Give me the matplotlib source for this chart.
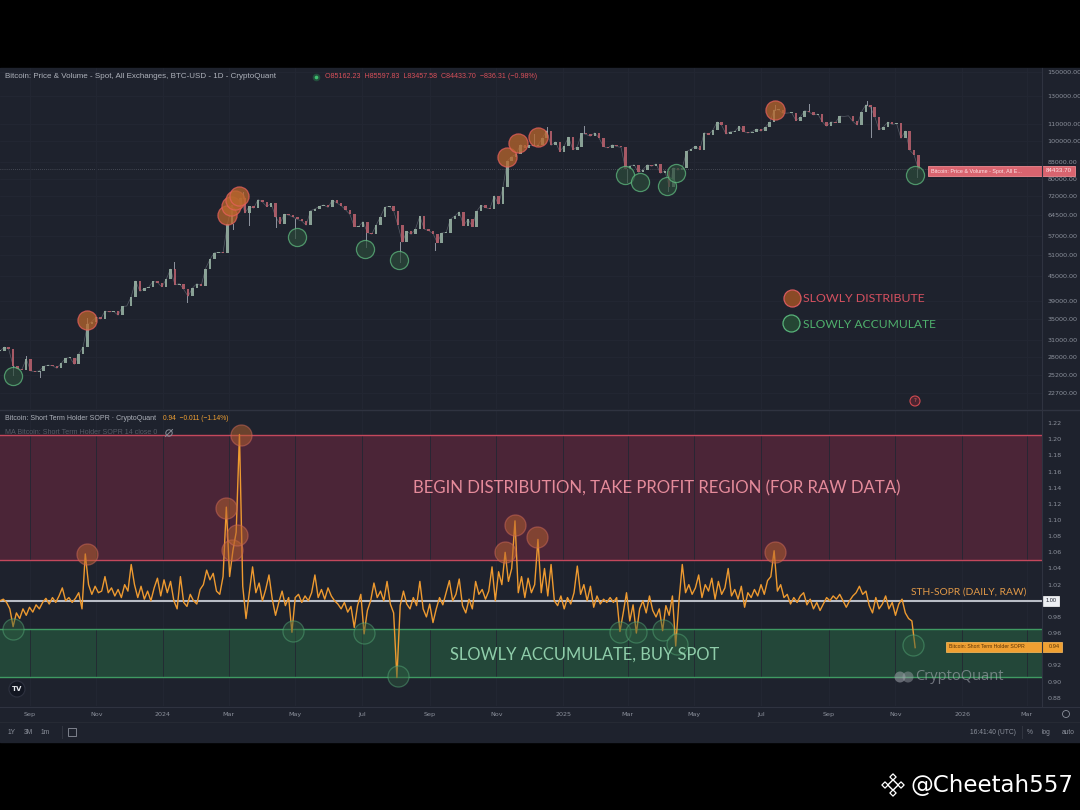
import matplotlib
matplotlib.use("Agg")
import matplotlib.pyplot as plt
import matplotlib.dates as mdates
import pandas as pd
from matplotlib.patches import Rectangle, Circle

# ---------------- data ----------------
price_start = "2023-08-05"
price_step = "4D"
price_close = [
    29000, 29700, 29300, 26600, 26100, 26000, 27700, 25800, 25700, 25800,
    26500, 26700, 26600, 26200, 27000, 27800, 27900, 26800, 28500, 29700,
    33900, 34500, 35400, 35000, 36700, 36500, 36600, 35800, 37700, 37800,
    39900, 43800, 41200, 41900, 42200, 43700, 43400, 42300, 44200, 47000,
    42800, 43100, 41700, 40000, 42000, 43100, 42600, 47100, 49700, 51700,
    51800, 51700, 61200, 68300, 68300, 71500, 65300, 67900, 67200, 70700,
    69700, 67800, 69100, 63900, 61300, 64900, 64500, 63800, 62900, 62300,
    60800, 66200, 66900, 67900, 68500, 67500, 70500, 69300, 68200, 66600,
    64800, 60300, 60300, 62100, 58200, 57700, 60800, 63900, 67600, 67900,
    66200, 60700, 55000, 58700, 57600, 59500, 64100, 59400, 58900, 57900,
    54800, 58100, 58200, 63000, 64200, 65800, 60600, 63000, 60300, 66000,
    68400, 67400, 67000, 72300, 68700, 75900, 88700, 91000, 92300, 97700,
    95900, 97300, 96900, 97400, 101400, 106100, 97200, 99300, 93700, 96900,
    102100, 94700, 96500, 104400, 103700, 102600, 104700, 101400, 96500, 95800,
    97600, 96600, 96100, 84700, 86200, 86700, 82900, 84300, 86800, 86000,
    87200, 82500, 83800, 76300, 85300, 84000, 85100, 93900, 95000, 96900,
    94700, 104800, 103500, 106500, 111700, 109400, 103900, 105400, 105600, 108700,
    105500, 104600, 105500, 107100, 105700, 108200, 111300, 119800, 119800, 117400,
    117600, 117900, 112500, 114900, 119300, 118300, 116300, 116900, 111800, 108800,
    111700, 111100, 115500, 115300, 115700, 112000, 109600, 118600, 123500, 121700,
    115200, 106500, 108400, 111600, 110000, 110600, 101300, 105900, 94500, 92000,
    84400,
]
wick_dates = [
    "2023-08-17", "2023-08-29", "2023-09-11", "2023-10-24", "2024-01-11",
    "2024-01-23", "2024-03-05", "2024-03-14", "2024-03-20", "2024-04-13",
    "2024-05-01", "2024-07-05", "2024-08-05", "2024-09-06", "2024-12-05",
    "2024-12-17", "2025-01-20", "2025-02-28", "2025-04-07", "2025-05-22",
    "2025-07-14", "2025-08-14", "2025-10-06", "2025-10-10", "2025-11-21",
]
wick_values = [
    25200, 28100, 24900, 35200, 48900,
    38600, 59300, 73700, 60800, 60000,
    56500, 53500, 49100, 52600, 103900,
    108300, 109300, 78300, 74500, 111900,
    123200, 124100, 126200, 102000, 80600,
]

sopr_start = "2023-08-05"
sopr_step = "3D"
sopr_values = [
    1.000, 1.002, 0.998, 0.990, 0.968, 0.985, 0.978, 0.990, 0.982, 0.992,
    0.986, 0.995, 0.990, 0.998, 1.003, 0.996, 1.004, 0.998, 1.006, 1.016,
    1.000, 1.004, 0.998, 1.003, 1.010, 0.990, 1.058, 1.020, 1.008, 1.018,
    1.010, 1.012, 1.030, 1.010, 1.016, 1.006, 1.014, 1.004, 1.020, 1.012,
    1.045, 1.020, 1.004, 1.018, 1.002, 1.012, 1.000, 1.016, 1.028, 1.006,
    1.026, 1.010, 1.024, 1.000, 0.990, 1.030, 0.998, 0.993, 1.008, 1.000,
    0.996, 1.014, 1.020, 1.038, 1.026, 1.034, 1.012, 1.008, 1.030, 1.116,
    1.030, 1.062, 1.085, 1.206, 1.018, 0.978, 1.010, 1.042, 1.010, 1.022,
    1.000, 1.014, 1.032, 1.002, 0.982, 0.998, 1.012, 0.994, 1.004, 0.961,
    1.004, 1.008, 0.998, 1.006, 1.000, 1.010, 1.032, 1.004, 1.014, 1.002,
    1.016, 1.006, 1.000, 0.996, 0.990, 0.998, 0.986, 0.993, 0.967, 0.994,
    1.008, 0.959, 0.988, 1.000, 1.022, 1.004, 1.012, 1.000, 1.024, 0.996,
    0.985, 0.905, 0.994, 1.012, 0.996, 0.990, 1.004, 0.994, 1.024, 0.990,
    0.980, 0.996, 0.973, 0.990, 1.004, 0.995, 1.010, 1.025, 1.000, 1.008,
    1.027, 0.994, 0.985, 1.002, 0.990, 1.024, 1.008, 1.014, 1.002, 1.012,
    1.042, 1.000, 1.036, 1.020, 1.060, 1.024, 1.040, 1.099, 1.010, 1.030,
    1.004, 1.028, 1.010, 1.020, 1.076, 1.010, 1.040, 1.006, 1.045, 1.000,
    0.994, 1.006, 0.990, 1.004, 0.996, 1.010, 1.043, 1.008, 1.020, 1.000,
    1.018, 0.992, 1.006, 0.996, 1.002, 0.998, 1.004, 0.998, 1.004, 0.962,
    0.985, 1.010, 0.975, 0.995, 0.960, 0.990, 1.000, 0.985, 1.006, 0.988,
    0.980, 0.990, 0.963, 0.994, 0.982, 1.006, 0.944, 1.000, 1.045, 1.010,
    1.020, 1.008, 1.016, 1.032, 1.004, 1.020, 1.012, 1.028, 1.002, 1.024,
    1.008, 1.016, 1.040, 1.006, 1.014, 1.002, 1.018, 0.992, 1.010, 1.004,
    1.014, 1.006, 1.020, 1.008, 1.025, 1.030, 1.062, 1.012, 1.020, 1.004,
    1.008, 0.996, 1.004, 0.998, 1.006, 1.010, 0.995, 1.002, 0.990, 0.998,
    0.988, 0.996, 1.004, 1.000, 1.006, 1.002, 1.008, 1.000, 0.992, 1.000,
    1.006, 1.010, 1.018, 1.008, 1.012, 0.994, 0.985, 1.004, 0.990, 0.996,
    1.006, 0.990, 0.998, 0.982, 0.996, 1.002, 0.985, 0.978, 0.975, 0.942,
]

dist_price_dates = ["2023-10-24", "2024-02-29", "2024-03-03", "2024-03-07", "2024-03-11",
                    "2024-11-11", "2024-11-21", "2024-12-09", "2025-07-14"]
dist_price_values = [34800, 64600, 68100, 70500, 72400, 90700, 98400, 102400, 119900]
acc_price_dates = ["2023-08-17", "2024-05-03", "2024-07-04", "2024-08-04", "2025-02-27",
                   "2025-03-12", "2025-04-06", "2025-04-14", "2025-11-19"]
acc_price_values = [25000, 56800, 52900, 49500, 81500, 78200, 76500, 82600, 81700]

dist_sopr_dates = ["2023-10-24", "2024-02-28", "2024-03-04", "2024-03-09", "2024-03-12",
                   "2024-11-09", "2024-11-18", "2024-12-08", "2025-07-14"]
dist_sopr_values = [1.058, 1.115, 1.063, 1.081, 1.205, 1.060, 1.094, 1.079, 1.061]
acc_sopr_dates = ["2023-08-17", "2024-04-29", "2024-07-03", "2024-08-03", "2025-02-22",
                  "2025-03-09", "2025-04-02", "2025-04-15", "2025-11-17"]
acc_sopr_values = [0.965, 0.962, 0.960, 0.907, 0.961, 0.961, 0.964, 0.947, 0.945]

price_ticks = [150000, 130000, 110000, 100000, 88000, 80000, 72000, 64500, 57000,
               51000, 45000, 39000, 35000, 31000, 28000, 25200, 22700]
sopr_ticks = [1.22, 1.20, 1.18, 1.16, 1.14, 1.12, 1.10, 1.08, 1.06, 1.04, 1.02,
              0.98, 0.96, 0.92, 0.90, 0.88]
month_ticks = ["2023-09-01", "2023-11-01", "2024-01-01", "2024-03-01", "2024-05-01",
               "2024-07-01", "2024-09-01", "2024-11-01", "2025-01-01", "2025-03-01",
               "2025-05-01", "2025-07-01", "2025-09-01", "2025-11-01", "2026-01-01",
               "2026-03-01"]
month_labels = ["Sep", "Nov", "2024", "Mar", "May", "Jul", "Sep", "Nov", "2025", "Mar",
                "May", "Jul", "Sep", "Nov", "2026", "Mar"]

dist_zone = (1.05, 1.205)
acc_zone = (0.905, 0.965)
last_price = 84433.70
last_sopr = 0.94

# ---------------- figure ----------------
W, H = 1080, 810
BG = "#1e222d"
GRID = "#232733"
TXT = "#8c919c"
fig = plt.figure(figsize=(W / 100, H / 100), dpi=100, facecolor="black")
fig.patches.append(Rectangle((0, 1 - 742 / H), 1, (742 - 68) / H,
                             transform=fig.transFigure, color=BG, zorder=-5))


def px_axes(x0, y0, x1, y1, **kw):
    return fig.add_axes([x0 / W, 1 - y1 / H, (x1 - x0) / W, (y1 - y0) / H], **kw)


xmin = mdates.date2num(pd.Timestamp("2023-08-05"))
xmax = mdates.date2num(pd.Timestamp("2026-03-15"))
tick_nums = [mdates.date2num(pd.Timestamp(d)) for d in month_ticks]

# ---- price pane ----
axp = px_axes(0, 68, 1042, 409)
axp.set_facecolor(BG)
axp.set_yscale("log")
axp.set_ylim(20620, 153300)
axp.set_xlim(xmin, xmax)
for s in axp.spines.values():
    s.set_visible(False)
axp.yaxis.tick_right()
axp.set_yticks(price_ticks)
axp.set_yticklabels([f"{v:.2f}" for v in price_ticks])
axp.yaxis.set_minor_locator(matplotlib.ticker.NullLocator())
axp.tick_params(axis="y", length=0, pad=4, labelsize=4.6, labelcolor=TXT)
axp.set_xticks(tick_nums)
axp.tick_params(axis="x", length=0, labelbottom=False)
axp.grid(True, color=GRID, lw=0.6)

pdates = pd.date_range(price_start, periods=len(price_close), freq=price_step)
px = mdates.date2num(pdates)
opens = [price_close[0]] + price_close[:-1]
axp.plot(px, price_close, color="#9aa0aa", lw=0.5, alpha=0.45, zorder=2)
for xi, o, c in zip(px, opens, price_close):
    up = c >= o
    col = "#9db8a8" if up else "#bf6470"
    lo, hi = min(o, c), max(o, c)
    if hi / lo < 1.005:
        hi = lo * 1.005
    axp.bar(xi, hi - lo, bottom=lo, width=2.3, color=col, alpha=0.85, lw=0, zorder=3)
for d, v in zip(wick_dates, wick_values):
    xn = mdates.date2num(pd.Timestamp(d))
    k = int(round((xn - px[0]) / 4))
    k = max(0, min(k, len(price_close) - 1))
    o, c = opens[k], price_close[k]
    edge = max(o, c) if v > max(o, c) else min(o, c)
    axp.plot([xn, xn], [edge, v], color="#8f95a0", lw=0.7, zorder=2)

axp.axhline(last_price, color="#8a8e98", lw=0.5, ls=(0, (1, 2)), alpha=0.7, zorder=1)

dpx = mdates.date2num(pd.to_datetime(dist_price_dates))
apx = mdates.date2num(pd.to_datetime(acc_price_dates))
axp.scatter(dpx, dist_price_values, s=190, facecolor="#b8662c", edgecolor="#e8605c",
            lw=0.9, alpha=0.75, zorder=5)
axp.scatter(apx, acc_price_values, s=170, facecolor="#2c4a3a", edgecolor="#62c283",
            lw=0.9, alpha=0.7, zorder=5)

# ---- SOPR pane ----
axs = px_axes(0, 410, 1042, 706)
axs.set_facecolor(BG)
axs.set_ylim(0.8697, 1.2363)
axs.set_xlim(xmin, xmax)
for s in axs.spines.values():
    s.set_visible(False)
axs.yaxis.tick_right()
axs.set_yticks(sopr_ticks)
axs.set_yticklabels([f"{v:.2f}" for v in sopr_ticks])
axs.tick_params(axis="y", length=0, pad=4, labelsize=4.6, labelcolor=TXT)
axs.set_xticks(tick_nums)
axs.set_xticklabels(month_labels)
axs.tick_params(axis="x", length=0, pad=4.5, labelsize=4.6, labelcolor=TXT)
axs.grid(True, axis="x", color=GRID, lw=0.6)

axs.axhspan(dist_zone[0], dist_zone[1], color="#8b2a45", alpha=0.42, lw=0, zorder=1)
axs.axhline(dist_zone[0], color="#c4485c", lw=1.0, zorder=2)
axs.axhline(dist_zone[1], color="#c4485c", lw=1.0, zorder=2)
axs.axhspan(acc_zone[0], acc_zone[1], color="#2e8a50", alpha=0.36, lw=0, zorder=1)
axs.axhline(acc_zone[0], color="#3f9a62", lw=1.0, zorder=2)
axs.axhline(acc_zone[1], color="#3f9a62", lw=1.0, zorder=2)
axs.axhline(1.0, color="#b9bdc6", lw=1.5, zorder=2)

sdates = pd.date_range(sopr_start, periods=len(sopr_values), freq=sopr_step)
axs.plot(mdates.date2num(sdates), sopr_values, color="#ee9a30", lw=1.0, zorder=4)

dsx = mdates.date2num(pd.to_datetime(dist_sopr_dates))
asx = mdates.date2num(pd.to_datetime(acc_sopr_dates))
axs.scatter(dsx, dist_sopr_values, s=230, facecolor="#b8622e", edgecolor="#d06a5a",
            lw=0.9, alpha=0.5, zorder=5)
axs.scatter(asx, acc_sopr_values, s=230, facecolor="#2e5c40", edgecolor="#58b07c",
            lw=0.9, alpha=0.45, zorder=5)

# ---- overlay in pixel coordinates ----
ov = fig.add_axes([0, 0, 1, 1], zorder=10)
ov.set_xlim(0, W)
ov.set_ylim(H, 0)
ov.axis("off")
ov.patch.set_alpha(0)
renderer = fig.canvas.get_renderer()


def fit(t, width):
    w = t.get_window_extent(renderer).width
    t.set_fontsize(t.get_fontsize() * width / w)
    return t


def txt(x, y, s, width=None, **kw):
    kw.setdefault("va", "center")
    kw.setdefault("ha", "left")
    t = ov.text(x, y, s, **kw)
    if width:
        fit(t, width)
    return t


# separators
ov.plot([0, 1080], [409.5, 409.5], color="#2f3340", lw=1.0)
ov.plot([1042, 1042], [68, 706], color="#2f3340", lw=0.8)
ov.plot([0, 1080], [706.5, 706.5], color="#2f3340", lw=0.8)
ov.plot([0, 1080], [722, 722], color="#262a34", lw=0.8)

# headers
txt(5, 77, "Bitcoin: Price & Volume - Spot, All Exchanges, BTC-USD - 1D - CryptoQuant",
    278, color="#aeb2bb", fontsize=5, family="Liberation Sans")
ov.scatter([316], [77], s=30, color="#2e9e5a", alpha=0.35, lw=0)
ov.scatter([316], [77], s=7, color="#3fbf6f", lw=0)
txt(325, 77, "O85162.23  H85597.83  L83457.58  C84433.70  \u2212836.31 (\u22120.98%)",
    215, color="#d8505a", fontsize=5, family="Liberation Sans")

txt(5, 419, "Bitcoin: Short Term Holder SOPR \u00b7 CryptoQuant", 153,
    color="#aeb2bb", fontsize=5, family="Liberation Sans")
txt(163, 419, "0.94  \u22120.011 (\u22121.14%)", 66, color="#f0a032", fontsize=5,
    family="Liberation Sans")
txt(5, 432, "MA Bitcoin: Short Term Holder SOPR 14 close 0", 155,
    color="#575b66", fontsize=5, family="Liberation Sans")
ov.add_patch(Circle((169, 433), 3.2, fill=False, ec="#8a8e98", lw=0.7))
ov.plot([165.5, 172.5], [436.5, 429.5], color="#8a8e98", lw=0.7)

# big annotations
txt(657, 488, "BEGIN DISTRIBUTION, TAKE PROFIT REGION (FOR RAW DATA)", 488,
    ha="center", color="#e58b9b", fontsize=11, family="Lato")
txt(585, 655, "SLOWLY ACCUMULATE, BUY SPOT", 270, ha="center", color="#8fcdaa",
    fontsize=11, family="Lato")
txt(911, 592, "STH-SOPR (DAILY, RAW)", 116, color="#e39a48", fontsize=8, family="Lato")

# legend
ov.scatter([792], [298], s=150, facecolor="#8a4a26", edgecolor="#d85a5e", lw=0.9)
txt(803, 299, "SLOWLY DISTRIBUTE", 122, color="#d4505f", fontsize=9, family="Lato")
ov.scatter([791], [323], s=150, facecolor="#254634", edgecolor="#58b47a", lw=0.9)
txt(803, 324, "SLOWLY ACCUMULATE", 132, color="#4fb06c", fontsize=9, family="Lato")

# small event marker
ov.add_patch(Circle((915, 401), 5, fc="#4a2430", ec="#d04a50", lw=0.8))
txt(915, 401, "?", ha="center", color="#e06060", fontsize=4)

# right-side price label
ov.add_patch(Rectangle((928, 166), 147, 10, fc="#d9646f", ec="#f08a92", lw=0.6))
txt(931, 171, "Bitcoin: Price & Volume - Spot, All E...", 90, color="#fde6e8",
    fontsize=4, family="Liberation Sans")
txt(1046, 171, "84433.70", 26, color="#fde6e8", fontsize=4, family="Liberation Sans")

# right-side SOPR labels
ov.add_patch(Rectangle((1043, 596), 16, 10, fc="#eceef2", ec="#ffffff", lw=0.5))
txt(1051, 601, "1.00", 11, ha="center", color="#1e222d", fontsize=4,
    family="Liberation Sans")
ov.add_patch(Rectangle((946, 641.5), 116, 10, fc="#f0a032", ec="#ffbe60", lw=0.5))
txt(949, 646.5, "Bitcoin: Short Term Holder SOPR", 75, color="#5a3306", fontsize=4,
    family="Liberation Sans")
txt(1049, 646.5, "0.94", 11, color="#5a3306", fontsize=4, family="Liberation Sans")

# tradingview logo
ov.add_patch(Circle((17, 689), 8, fc="#131722", ec="#2e3240", lw=0.8))
txt(17, 689, "TV", ha="center", color="#e8eaee", fontsize=5, fontweight="bold")

# cryptoquant watermark
ov.add_patch(Circle((900, 677), 5.5, fc="#9ea3ab", ec="none", alpha=0.55))
ov.add_patch(Circle((908, 677), 5.5, fc="#9ea3ab", ec="none", alpha=0.45))
txt(915, 677, "CryptoQuant", 88, color="#a8acb4", alpha=0.6, fontsize=10,
    family="Open Sans")

# bottom toolbar
for xx, s in [(8, "1Y"), (24, "3M"), (41, "1m")]:
    txt(xx, 732, s, color=TXT, fontsize=4.8, family="Liberation Sans")
ov.plot([62, 62], [726, 738], color="#30343f", lw=0.8)
ov.add_patch(Rectangle((68, 728), 8, 8, fill=False, ec=TXT, lw=0.6))
txt(1016, 732, "16:41:40 (UTC)", ha="right", color=TXT, fontsize=4.8,
    family="Liberation Sans")
ov.plot([1022, 1022], [726, 738], color="#30343f", lw=0.8)
txt(1030, 732, "%", ha="center", color=TXT, fontsize=4.8, family="Liberation Sans")
txt(1046, 732, "log", ha="center", color=TXT, fontsize=4.8, family="Liberation Sans")
txt(1068, 732, "auto", ha="center", color=TXT, fontsize=4.8, family="Liberation Sans")
ov.add_patch(Circle((1066, 714), 3.5, fill=False, ec=TXT, lw=0.6))

# social watermark
bx, by = 893, 785
ov.scatter([bx], [by], marker="D", s=28, facecolor="none", edgecolor="white", lw=1.0)
for dx, dy in [(-8, 0), (8, 0), (0, -8), (0, 8)]:
    ov.scatter([bx + dx], [by + dy], marker="D", s=10, facecolor="none",
               edgecolor="white", lw=0.9)
txt(910, 785, "@Cheetah557", 163, color="white", fontsize=16, family="DejaVu Sans")

fig.savefig("out.png", dpi=100, facecolor="black")
